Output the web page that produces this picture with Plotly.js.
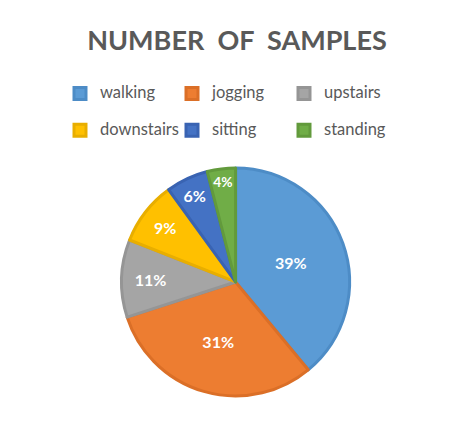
<!DOCTYPE html>
<html>
<head>
<meta charset="utf-8">
<script src="https://cdn.plot.ly/plotly-3.0.1.min.js"></script>
<style>
  html, body { margin: 0; padding: 0; background: #ffffff; }
  #chart { width: 474px; height: 424px; }
</style>
</head>
<body>
<div id="chart"></div>
<script>
(function () {
  "use strict";

  var activities = ["walking", "jogging", "upstairs", "downstairs", "sitting", "standing"];
  var shares = [39, 31, 11, 9, 6, 4];
  var fillColors = ["#5b9bd5", "#ed7d31", "#a5a5a5", "#ffc000", "#4472c4", "#70ad47"];
  var edgeColors = ["#4d8cc6", "#db6f27", "#959595", "#e8ae00", "#3963b2", "#629a3c"];

  // bigger span + blank second line: legend rows spaced like the original
  var legendLabels = activities.map(function (a) {
    return "<span style='font-size:16.5px'>" + a + "</span><br> ";
  });

  Plotly.newPlot("chart", [{
    type: "pie",
    labels: legendLabels,
    values: shares,
    sort: false,
    direction: "clockwise",
    rotation: 0,
    textinfo: "percent",
    textposition: "inside",
    insidetextorientation: "horizontal",
    insidetextfont: { family: "Lato, sans-serif", size: 16, color: "#ffffff", weight: "bold" },
    marker: {
      colors: fillColors,
      line: { color: edgeColors, width: 3 }
    },
    domain: { x: [0.174, 0.818], y: [0.066, 0.604] }
  }], {
    font: { family: "Lato, 'Open Sans', sans-serif", color: "#595959" },
    width: 474,
    height: 424,
    margin: { t: 0, r: 60, b: 0, l: 60 },
    paper_bgcolor: "#ffffff",
    title: {
      text: "NUMBER  OF  SAMPLES",
      font: { family: "Lato, sans-serif", size: 27, color: "#595959", weight: "bold" },
      x: 0.5,
      xanchor: "center",
      y: 0.905,
      yanchor: "middle"
    },
    showlegend: true,
    legend: {
      orientation: "h",
      x: 0,
      xanchor: "left",
      y: 0.815,
      yanchor: "top",
      valign: "top",
      entrywidth: 67,
      entrywidthmode: "pixels",
      itemwidth: 30,
      font: { family: "Lato, sans-serif", size: 13, color: "#595959" },
      bgcolor: "rgba(0,0,0,0)"
    }
  }, { displayModeBar: false, staticPlot: true });
}());
</script>
</body>
</html>
